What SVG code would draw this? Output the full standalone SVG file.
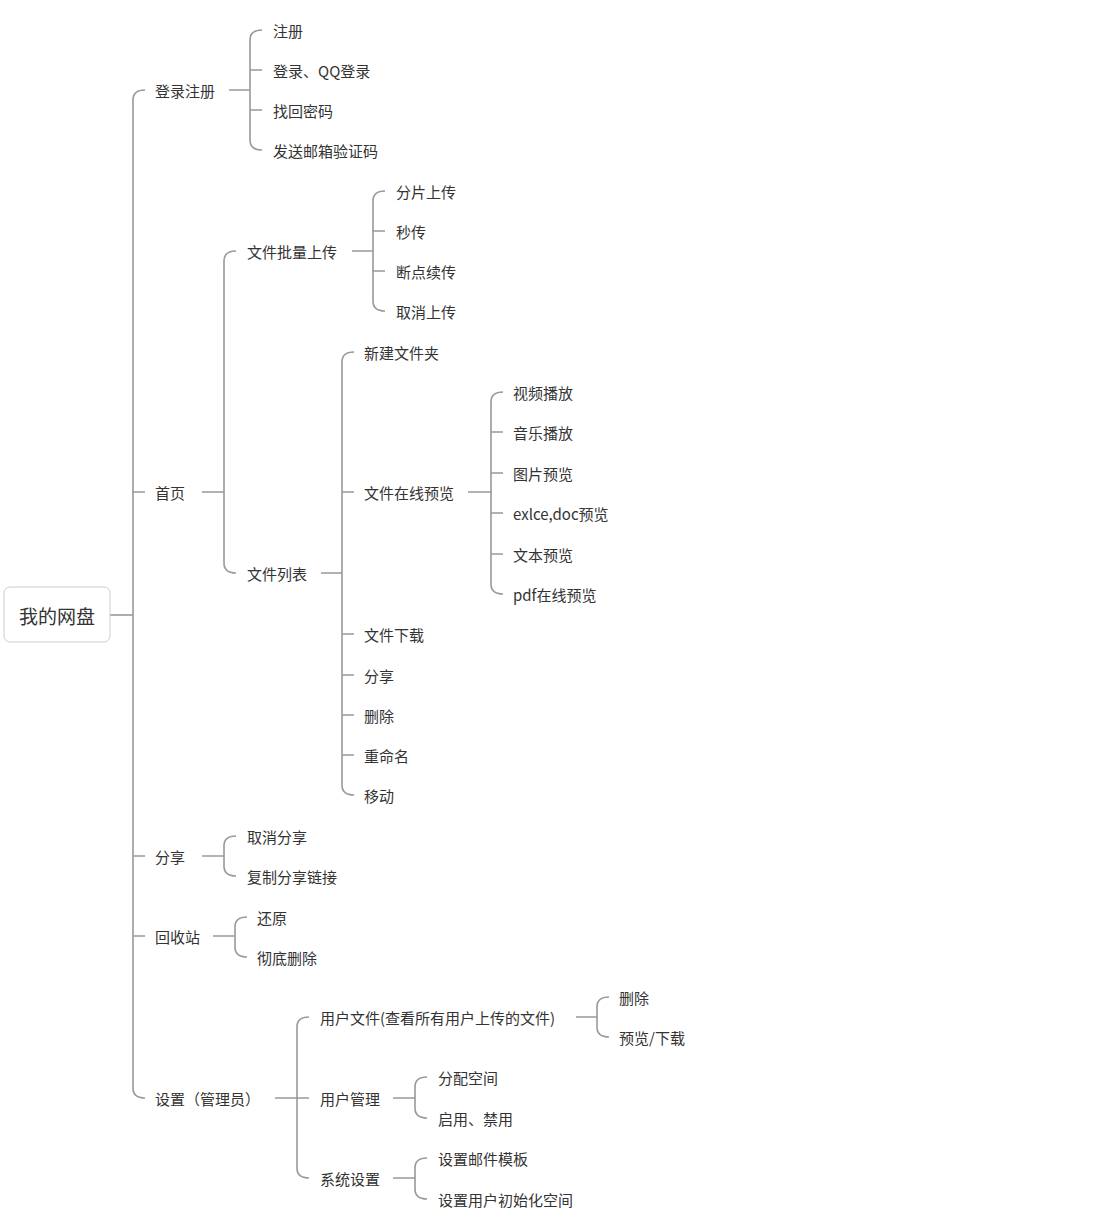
<svg xmlns="http://www.w3.org/2000/svg" width="1101" height="1224" viewBox="0 0 1101 1224">
<style>
text{font-family:"Noto Sans CJK SC","Liberation Sans",sans-serif;font-size:15px;fill:#333;dominant-baseline:central}
.c path{fill:none;stroke:#999;stroke-width:1.6}
.root{font-size:19px}
</style>
<rect width="1101" height="1224" fill="#fff"/>
<g class="c" id="connectors">
<path d="M110 615H133"/>
<path d="M145 90Q133 90 133 100V1088Q133 1098 145 1098M133 492H145M133 856H145M133 936H145"/>
<path d="M229 90H250M262 30Q250 30 250 40V140Q250 150 262 150M250 70H262M250 110H262"/>
<path d="M202 492H224M236 251Q224 251 224 261V563Q224 573 236 573"/>
<path d="M352 251H373M385 191Q373 191 373 201V301Q373 311 385 311M373 231H385M373 271H385"/>
<path d="M321 573H342M354 352Q342 352 342 362V785Q342 795 354 795M342 492H354M342 634H354M342 675H354M342 715H354M342 755H354"/>
<path d="M468 492H491M503 392Q491 392 491 402V584Q491 594 503 594M491 432H503M491 473H503M491 513H503M491 554H503"/>
<path d="M202 856H224M236 836Q224 836 224 846V866Q224 876 236 876"/>
<path d="M213 936H235M247 917Q235 917 235 927V947Q235 957 247 957"/>
<path d="M275 1098H297M309 1017Q297 1017 297 1027V1168Q297 1178 309 1178M297 1098H309"/>
<path d="M576 1017H597M609 997Q597 997 597 1007V1027Q597 1037 609 1037"/>
<path d="M393 1098H415M427 1077Q415 1077 415 1087V1108Q415 1118 427 1118"/>
<path d="M393 1178H415M427 1158Q415 1158 415 1168V1189Q415 1199 427 1199"/>
</g>
<g id="root"><rect x="4" y="587" width="106" height="55" rx="6" fill="#fff" stroke="#ccc"/><text class="root" x="57" y="615" text-anchor="middle">我的网盘</text></g>
<g id="n1"><text x="155" y="90">登录注册</text></g>
<g id="n1a"><text x="273" y="30">注册</text></g>
<g id="n1b"><text x="273" y="70">登录、QQ登录</text></g>
<g id="n1c"><text x="273" y="110">找回密码</text></g>
<g id="n1d"><text x="273" y="150">发送邮箱验证码</text></g>
<g id="n2"><text x="155" y="492">首页</text></g>
<g id="n2a"><text x="247" y="251">文件批量上传</text></g>
<g id="n2a1"><text x="396" y="191">分片上传</text></g>
<g id="n2a2"><text x="396" y="231">秒传</text></g>
<g id="n2a3"><text x="396" y="271">断点续传</text></g>
<g id="n2a4"><text x="396" y="311">取消上传</text></g>
<g id="n2b"><text x="247" y="573">文件列表</text></g>
<g id="n2b1"><text x="364" y="352">新建文件夹</text></g>
<g id="n2b2"><text x="364" y="492">文件在线预览</text></g>
<g id="p1"><text x="513" y="392">视频播放</text></g>
<g id="p2"><text x="513" y="432">音乐播放</text></g>
<g id="p3"><text x="513" y="473">图片预览</text></g>
<g id="p4"><text x="513" y="513">exlce,doc预览</text></g>
<g id="p5"><text x="513" y="554">文本预览</text></g>
<g id="p6"><text x="513" y="594">pdf在线预览</text></g>
<g id="n2b3"><text x="364" y="634">文件下载</text></g>
<g id="n2b4"><text x="364" y="675">分享</text></g>
<g id="n2b5"><text x="364" y="715">删除</text></g>
<g id="n2b6"><text x="364" y="755">重命名</text></g>
<g id="n2b7"><text x="364" y="795">移动</text></g>
<g id="n3"><text x="155" y="856">分享</text></g>
<g id="n3a"><text x="247" y="836">取消分享</text></g>
<g id="n3b"><text x="247" y="876">复制分享链接</text></g>
<g id="n4"><text x="155" y="936">回收站</text></g>
<g id="n4a"><text x="257" y="917">还原</text></g>
<g id="n4b"><text x="257" y="957">彻底删除</text></g>
<g id="n5"><text x="155" y="1098">设置（管理员）</text></g>
<g id="n5a"><text x="320" y="1017">用户文件(查看所有用户上传的文件)</text></g>
<g id="n5a1"><text x="619" y="997">删除</text></g>
<g id="n5a2"><text x="619" y="1037">预览/下载</text></g>
<g id="n5b"><text x="320" y="1098">用户管理</text></g>
<g id="n5b1"><text x="438" y="1077">分配空间</text></g>
<g id="n5b2"><text x="438" y="1118">启用、禁用</text></g>
<g id="n5c"><text x="320" y="1178">系统设置</text></g>
<g id="n5c1"><text x="438" y="1158">设置邮件模板</text></g>
<g id="n5c2"><text x="438" y="1199">设置用户初始化空间</text></g>
</svg>
